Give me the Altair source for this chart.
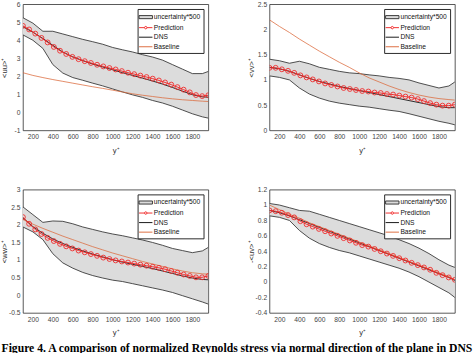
import altair as alt
import pandas as pd

X_GRID = [100, 200, 300, 400, 500, 600, 700, 800, 900, 1000, 1100, 1200, 1300, 1400, 1500, 1600, 1700, 1800, 1900, 1960]
X_PRED = [100, 162, 224, 286, 348, 410, 472, 534, 596, 658, 720, 782, 844, 906, 968, 1030, 1092, 1154, 1216, 1278,
          1340, 1402, 1464, 1526, 1588, 1650, 1712, 1774, 1836, 1898, 1960]
X_TICKS = [200, 400, 600, 800, 1000, 1200, 1400, 1600, 1800]

# <uu>+
UU_HI = [5.25, 4.95, 4.5, 4.5, 4.35, 4.2, 4.05, 3.92, 3.78, 3.6, 3.47, 3.35, 3.2, 3.07, 2.9, 2.65, 2.4, 2.15, 2.15, 2.27]
UU_LO = [4.3, 4.0, 3.55, 2.65, 2.18, 1.93, 1.78, 1.62, 1.47, 1.3, 1.13, 0.97, 0.83, 0.66, 0.52, 0.34, 0.13, -0.08, -0.25, -0.32]
UU_DNS = [4.75, 4.45, 4.1, 3.72, 3.35, 3.08, 2.87, 2.68, 2.52, 2.36, 2.2, 2.05, 1.9, 1.74, 1.57, 1.38, 1.18, 0.98, 0.86, 0.84]
UU_BASE = [2.2, 2.05, 1.93, 1.82, 1.72, 1.62, 1.52, 1.42, 1.33, 1.23, 1.13, 1.03, 0.95, 0.88, 0.81, 0.75, 0.7, 0.66, 0.62, 0.6]
UU_PRED = [4.8, 4.6, 4.37, 4.13, 3.88, 3.63, 3.42, 3.24, 3.08, 2.95, 2.84, 2.74, 2.64, 2.55, 2.46, 2.38, 2.29, 2.2, 2.12, 2.04,
           1.96, 1.87, 1.77, 1.66, 1.54, 1.4, 1.26, 1.11, 0.96, 0.9, 0.95]
UU_TICKS = [-1, 0, 1, 2, 3, 4, 5, 6]

# <vv>+
VV_HI = [1.41, 1.38, 1.33, 1.37, 1.32, 1.25, 1.21, 1.17, 1.14, 1.125, 1.1, 1.08, 1.05, 1.03, 1.0, 0.94, 0.89, 0.84, 0.88, 0.96]
VV_LO = [1.08, 1.05, 1.0, 0.84, 0.72, 0.64, 0.58, 0.54, 0.51, 0.48, 0.46, 0.43, 0.4, 0.375, 0.33, 0.28, 0.23, 0.18, 0.14, 0.11]
VV_DNS = [1.25, 1.22, 1.17, 1.1, 1.03, 0.97, 0.92, 0.87, 0.83, 0.79, 0.75, 0.71, 0.67, 0.63, 0.59, 0.55, 0.51, 0.47, 0.45, 0.45]
VV_BASE = [2.19, 2.06, 1.94, 1.81, 1.69, 1.57, 1.46, 1.35, 1.25, 1.14, 1.04, 0.96, 0.88, 0.81, 0.75, 0.7, 0.66, 0.63, 0.61, 0.6]
VV_PRED = [1.24, 1.24, 1.21, 1.18, 1.14, 1.09, 1.05, 1.01, 0.97, 0.93, 0.9, 0.87, 0.84, 0.82, 0.8, 0.78, 0.77, 0.75, 0.74, 0.72,
           0.71, 0.69, 0.67, 0.65, 0.62, 0.58, 0.54, 0.51, 0.49, 0.49, 0.51]
VV_TICKS = [0, 0.5, 1, 1.5, 2, 2.5]

# <ww>+
WW_HI = [2.51, 2.29, 2.07, 2.11, 2.1, 2.03, 1.94, 1.87, 1.8, 1.74, 1.69, 1.63, 1.57, 1.5, 1.42, 1.33, 1.27, 1.21, 1.26, 1.36]
WW_LO = [1.94, 1.8, 1.58, 1.18, 0.92, 0.77, 0.65, 0.56, 0.49, 0.43, 0.39, 0.33, 0.27, 0.21, 0.15, 0.08, -0.01, -0.1, -0.19, -0.25]
WW_DNS = [2.2, 1.95, 1.76, 1.6, 1.47, 1.36, 1.26, 1.17, 1.09, 1.01, 0.94, 0.88, 0.82, 0.76, 0.69, 0.62, 0.55, 0.49, 0.45, 0.44]
WW_BASE = [2.15, 2.02, 1.9, 1.79, 1.68, 1.58, 1.48, 1.38, 1.29, 1.2, 1.12, 1.04, 0.96, 0.89, 0.82, 0.75, 0.69, 0.64, 0.61, 0.6]
WW_PRED = [2.22, 2.03, 1.87, 1.74, 1.63, 1.54, 1.46, 1.39, 1.33, 1.27, 1.22, 1.17, 1.12, 1.07, 1.03, 0.99, 0.96, 0.93, 0.9, 0.87,
           0.84, 0.81, 0.78, 0.74, 0.69, 0.64, 0.59, 0.55, 0.51, 0.51, 0.55]
WW_TICKS = [-0.5, 0, 0.5, 1, 1.5, 2, 2.5, 3]

# -<uv>+
UV_HI = [1.02, 1.0, 0.965, 0.93, 0.92, 0.88, 0.84, 0.8, 0.76, 0.72, 0.68, 0.64, 0.6, 0.55, 0.5, 0.44, 0.37, 0.29, 0.22, 0.19]
UV_LO = [0.86, 0.84, 0.8, 0.67, 0.57, 0.5, 0.45, 0.41, 0.38, 0.34, 0.3, 0.26, 0.22, 0.18, 0.13, 0.07, 0.0, -0.07, -0.14, -0.2]
UV_DNS = [0.93, 0.9, 0.86, 0.81, 0.76, 0.71, 0.66, 0.61, 0.56, 0.51, 0.46, 0.41, 0.36, 0.31, 0.26, 0.21, 0.16, 0.11, 0.06, 0.02]
UV_BASE = [1.0, 0.94, 0.88, 0.83, 0.77, 0.72, 0.67, 0.62, 0.57, 0.52, 0.47, 0.42, 0.37, 0.32, 0.27, 0.22, 0.17, 0.12, 0.07, 0.03]
UV_PRED = [0.93, 0.92, 0.9, 0.87, 0.84, 0.79, 0.75, 0.72, 0.69, 0.66, 0.63, 0.6, 0.57, 0.54, 0.51, 0.48, 0.46, 0.43, 0.4, 0.37,
           0.34, 0.31, 0.28, 0.25, 0.22, 0.19, 0.16, 0.12, 0.09, 0.06, 0.03]
UV_TICKS = [-0.4, -0.2, 0, 0.2, 0.4, 0.6, 0.8, 1, 1.2]

SERIES = ["uncertainty*500", "Prediction", "DNS", "Baseline"]
CAPTION = "Figure 4. A comparison of normalized Reynolds stress via normal direction of the plane in DNS"

RED = "#f02828"
ORANGE = "#dc6a3c"
BAND = "#dcdcdc"
EDGE = "#333333"

LEG_FILL = [BAND, "transparent", "transparent", "transparent"]
LEG_STROKE = [EDGE, RED, "#111111", ORANGE]
LEG_SHAPE = [
    "M-1.4,-0.32H1.4V0.32H-1.4Z",
    "M-1.4,0H-0.26M0.26,0H1.4M0.26,0A0.26,0.26 0 1,1 -0.26,0A0.26,0.26 0 1,1 0.26,0",
    "M-1.4,0H1.4",
    "M-1.4,0H1.4",
]

FONT = "Liberation Sans"


def axis(title, values):
    return alt.Axis(title=title, values=values, labelExpr="'' + datum.value", labelOverlap=False,
                    grid=False, domain=False, ticks=False, labelFont=FONT,
                    labelFontSize=7, labelColor="#444444", labelPadding=3, titleFont=FONT,
                    titleFontSize=8, titleFontWeight="normal", titleColor="#333333")


def panel(title, hi, lo, dns, base, pred, ticks, height):
    band = pd.DataFrame({"x": X_GRID, "lo": lo, "hi": hi, "dns": dns, "base": base})
    pr = pd.DataFrame({"x": X_PRED, "pred": pred})
    xs = alt.Scale(domain=[100, 1960], nice=False, zero=False)
    ys = alt.Scale(domain=[ticks[0], ticks[-1]], nice=False, zero=False)
    XA = alt.X("x:Q", scale=xs, axis=axis("y⁺", X_TICKS))
    yax = axis(title, ticks)

    def Y(field):
        return alt.Y(field, type="quantitative", scale=ys, axis=yax)

    b = alt.Chart(band)
    area = b.mark_area(color=BAND, clip=True).encode(x=XA, y=Y("lo"), y2="hi:Q")
    lo_l = b.mark_line(color=EDGE, strokeWidth=0.9, clip=True).encode(x=XA, y=Y("lo"))
    hi_l = b.mark_line(color=EDGE, strokeWidth=0.9, clip=True).encode(x=XA, y=Y("hi"))
    dns_l = b.mark_line(color="#111111", strokeWidth=0.9, clip=True).encode(x=XA, y=Y("dns"))
    base_l = b.mark_line(color=ORANGE, strokeWidth=0.8, clip=True).encode(x=XA, y=Y("base"))
    pred_l = alt.Chart(pr).mark_line(
        color=RED, strokeWidth=1, clip=True,
        point=alt.OverlayMarkDef(filled=False, shape="circle", size=26, stroke=RED, strokeWidth=0.9),
    ).encode(x=XA, y=Y("pred"))
    leg = alt.Legend(title=None, orient="top-right", offset=5, padding=3,
                     strokeColor="#222222", fillColor="white",
                     labelFont=FONT, labelFontSize=7, labelColor="#111111",
                     symbolSize=100, symbolStrokeWidth=1, labelOffset=3, rowPadding=1)
    dummy = alt.Chart(pd.DataFrame({"series": SERIES})).mark_point(strokeWidth=1, opacity=1).encode(
        fill=alt.Fill("series:N", scale=alt.Scale(domain=SERIES, range=LEG_FILL), legend=leg, sort=SERIES),
        stroke=alt.Stroke("series:N", scale=alt.Scale(domain=SERIES, range=LEG_STROKE), legend=leg, sort=SERIES),
        shape=alt.Shape("series:N", scale=alt.Scale(domain=SERIES, range=LEG_SHAPE), legend=leg, sort=SERIES),
    ).transform_filter("false")
    return alt.layer(area, lo_l, hi_l, dns_l, base_l, pred_l, dummy).properties(width=194, height=height)


p1 = panel("<uu>⁺", UU_HI, UU_LO, UU_DNS, UU_BASE, UU_PRED, UU_TICKS, 132)
p2 = panel("<vv>⁺", VV_HI, VV_LO, VV_DNS, VV_BASE, VV_PRED, VV_TICKS, 132)
p3 = panel("<ww>⁺", WW_HI, WW_LO, WW_DNS, WW_BASE, WW_PRED, WW_TICKS, 129)
p4 = panel("-<uv>⁺", UV_HI, UV_LO, UV_DNS, UV_BASE, UV_PRED, UV_TICKS, 129)

chart = alt.concat(p1, p2, p3, p4, columns=2, spacing={"row": 31, "column": 39}).resolve_scale(
    fill="independent", stroke="independent", shape="independent"
).resolve_legend(
    fill="independent", stroke="independent", shape="independent"
).properties(
    background="white",
    padding={"left": 0, "top": -9, "right": 0, "bottom": 0},
    title=alt.TitleParams(CAPTION, orient="bottom", anchor="start", font="Liberation Serif",
                          fontWeight="bold", fontSize=12.2, color="#000000", baseline="top", offset=6, dx=1),
).configure_view(
    stroke="#262626", strokeWidth=0.8
).configure_axis(
    labelOverlap=False
).configure_axisY(
    minExtent=15, maxExtent=15, titlePadding=0
).configure_axisX(
    titlePadding=7
)

chart.save("out.html", embed_options={"renderer": "svg", "actions": False})
